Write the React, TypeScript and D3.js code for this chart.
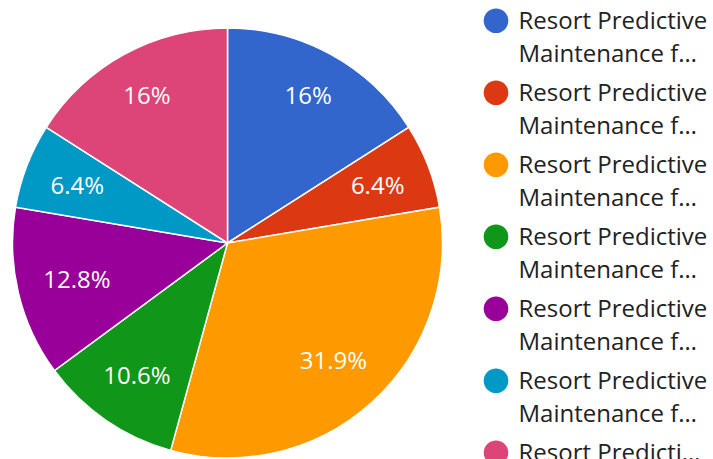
import React, { useEffect, useRef } from 'react';
import * as d3 from 'd3';

// slice counts (percentages shown are count / total)
const categories = [
  'Resort Predictive Maintenance f…',
  'Resort Predictive Maintenance f…',
  'Resort Predictive Maintenance f…',
  'Resort Predictive Maintenance f…',
  'Resort Predictive Maintenance f…',
  'Resort Predictive Maintenance f…',
  'Resort Predictive Maintenance f…',
];
const counts = [15, 6, 30, 10, 12, 6, 15];
const colors = ['#3366cc', '#dc3912', '#ff9900', '#109618', '#990099', '#0099c6', '#dd4477'];
// legend text as it appears (wrapped and truncated)
const legendLines = [
  ['Resort Predictive', 'Maintenance f…'],
  ['Resort Predictive', 'Maintenance f…'],
  ['Resort Predictive', 'Maintenance f…'],
  ['Resort Predictive', 'Maintenance f…'],
  ['Resort Predictive', 'Maintenance f…'],
  ['Resort Predictive', 'Maintenance f…'],
  ['Resort Predicti…'],
];

type Slice = { name: string; value: number; color: string };

const App: React.FC = () => {
  const svgRef = useRef<SVGSVGElement | null>(null);

  useEffect(() => {
    if (!svgRef.current) return;
    const svg = d3.select(svgRef.current);
    svg.selectAll('*').remove();

    const width = 713;
    const height = 459;
    const cx = 227.5;
    const cy = 243;
    const radius = 215;
    const font = '"Open Sans", "Noto Sans", sans-serif';

    const data: Slice[] = counts.map((v, i) => ({ name: categories[i], value: v, color: colors[i] }));
    const total = d3.sum(counts);

    const pie = d3.pie<Slice>()
      .value(d => d.value)
      .sort(null);
    const arcs = pie(data);

    const arc = d3.arc<d3.PieArcDatum<Slice>>()
      .innerRadius(0)
      .outerRadius(radius);

    const g = svg.append('g').attr('transform', `translate(${cx},${cy})`);

    g.selectAll('path')
      .data(arcs)
      .join('path')
      .attr('d', arc)
      .attr('fill', d => d.data.color)
      .attr('stroke', '#ffffff')
      .attr('stroke-width', 1.5);

    const pct = (v: number) => {
      const s = d3.format('.1f')((v / total) * 100);
      return s.replace(/\.0$/, '') + '%';
    };

    // labels: outer corner of the text box sits on a fixed radius
    const edge = radius * 0.885;
    const halfH = 12;
    g.selectAll('text')
      .data(arcs)
      .join('text')
      .attr('text-anchor', 'middle')
      .attr('dy', '0.36em')
      .attr('fill', '#ffffff')
      .style('font-family', font)
      .style('font-size', '24px')
      .text(d => pct(d.data.value))
      .each(function (d) {
        const w = (this as SVGTextElement).getComputedTextLength();
        const a = (d.startAngle + d.endAngle) / 2;
        const ux = Math.sin(a);
        const uy = -Math.cos(a);
        const c = [Math.sign(ux) * w / 2, Math.sign(uy) * halfH];
        const uc = ux * c[0] + uy * c[1];
        const cc = c[0] * c[0] + c[1] * c[1];
        const dist = -uc + Math.sqrt(uc * uc - cc + edge * edge);
        d3.select(this).attr('transform', `translate(${ux * dist},${uy * dist})`);
      });

    // legend
    const legend = svg.append('g').attr('transform', 'translate(496,0)');
    const items = legend.selectAll('g')
      .data(legendLines)
      .join('g')
      .attr('transform', (_, i) => `translate(0,${20.7 + i * 72})`);

    items.append('circle')
      .attr('r', 12.3)
      .attr('fill', (_, i) => colors[i]);

    items.each(function (lines) {
      const t = d3.select(this).append('text')
        .attr('x', 22.5)
        .attr('fill', '#222222')
        .style('font-family', font)
        .style('font-size', '24px');
      lines.forEach((line, j) => {
        t.append('tspan')
          .attr('x', 22.5)
          .attr('y', 8.5 + j * 32.5)
          .text(line);
      });
    });

    svg.attr('width', width).attr('height', height);
  }, []);

  return (
    <svg
      ref={svgRef}
      width={713}
      height={459}
      style={{ position: 'absolute', left: 0, top: 0, background: '#ffffff' }}
    ></svg>
  );
};

export default App;
